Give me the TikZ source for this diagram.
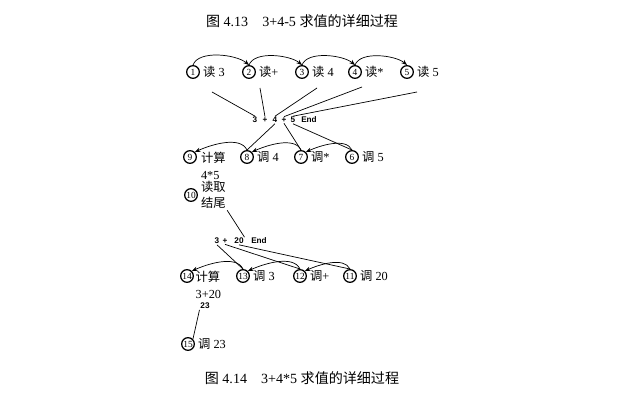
\documentclass[tikz,border=0pt]{standalone}
\usepackage{fontspec}
\setmainfont{Liberation Serif}
\setsansfont{Liberation Sans}
\newfontfamily\cjk{Noto Sans CJK SC}
\usetikzlibrary{positioning, arrows.meta}
\newcommand{\zh}[1]{{\cjk #1}}
\tikzset{
  num/.style={circle, draw, line width=1.1pt, inner sep=0pt, minimum size=0.38cm,
              font=\fontsize{8}{9}\selectfont},
  lbl/.style={inner sep=1pt, font=\fontsize{10.5}{14}\selectfont},
  tok/.style={inner sep=0.6pt, font=\sffamily\bfseries\fontsize{7}{8}\selectfont},
  figcap/.style={font=\fontsize{12}{14}\selectfont},
  hop/.style={-{Stealth[length=1.7mm, width=1.3mm]}, semithick},
  link/.style={semithick},
}

\begin{document}
\begin{tikzpicture}[x=0.03cm, y=-0.03cm, node distance=1.5pt]
  \useasboundingbox (0,0) rectangle (636,403);

  % captions
  \node[figcap] (cap1) at (302,21) {\zh{图}~4.13\quad 3+4-5~\zh{求值的详细过程}};
  \node[figcap] (cap2) at (302,378) {\zh{图}~4.14\quad 3+4*5~\zh{求值的详细过程}};

  % reading steps
  \foreach \i/\x in {1/193, 2/249, 3/302, 4/355, 5/407}
    \node[num] (c\i) at (\x,72) {\i};
  \node[lbl, right=of c1] (t1) {\zh{读} 3};
  \node[lbl, right=of c2] (t2) {\zh{读}+};
  \node[lbl, right=of c3] (t3) {\zh{读} 4};
  \node[lbl, right=of c4] (t4) {\zh{读}*};
  \node[lbl, right=of c5] (t5) {\zh{读} 5};
  \foreach \a/\b in {1/2, 2/3, 3/4, 4/5}
    \draw[hop] (c\a.north) to[out=70, in=140, looseness=0.75] (c\b.north);

  % first expression
  \node[tok] (x3) at (255,120) {3};
  \node[tok] (xa) at (265,120) {+};
  \node[tok] (x4) at (275,120) {4};
  \node[tok] (xb) at (284,120) {+};
  \node[tok] (x5) at (293,120) {5};
  \node[tok] (xe) at (309,120) {End};
  \coordinate (a1) at (212,92);
  \coordinate (a2) at (260,88);
  \coordinate (a3) at (317,88);
  \coordinate (a4) at (362,87);
  \coordinate (a5) at (417,92);
  \foreach \i/\t in {1/x3, 2/xa, 3/x4, 4/xb, 5/x5}
    \draw[link] (a\i) -- (\t.north);

  % returning steps
  \foreach \i/\x in {9/190, 8/247, 7/301, 6/352}
    \node[num] (c\i) at (\x,157) {\i};
  \node[lbl, anchor=north west, align=left] (t9)
    at ([xshift=4pt, yshift=1pt]c9.north east) {\zh{计算}\\4*5};
  \node[lbl, right=of c8] (t8) {\zh{调} 4};
  \node[lbl, right=of c7] (t7) {\zh{调}*};
  \node[lbl, right=of c6] (t6) {\zh{调} 5};
  \draw[link] (x4.south) -- (c8.north);
  \draw[link] (xb.south) -- (c7.north);
  \draw[link] (x5.south) -- (c6.north);
  \foreach \a/\b in {6/7, 7/8, 8/9}
    \draw[hop] (c\a.north) to[out=115, in=25, looseness=0.8] (c\b.north east);

  \node[num] (c10) at (191,195) {10};
  \node[lbl, right=of c10, align=left] (t10) {\zh{读取}\\\zh{结尾}};

  % second expression
  \node[tok] (y3) at (217,241) {3};
  \node[tok] (yp) at (225,241) {+};
  \node[tok] (y20) at (239,241) {20};
  \node[tok] (ye) at (259,241) {End};
  \draw[link] (t10.south east) -- (y20.north east);

  \foreach \i/\x in {14/187, 13/243, 12/300, 11/350}
    \node[num] (c\i) at (\x,276) {\i};
  \node[lbl, anchor=north west, align=left] (t14)
    at ([xshift=2pt, yshift=1pt]c14.north east) {\zh{计算}\\3+20};
  \node[lbl, right=of c13] (t13) {\zh{调} 3};
  \node[lbl, right=of c12] (t12) {\zh{调}+};
  \node[lbl, right=of c11] (t11) {\zh{调} 20};
  \draw[link] (y3.south) -- (c13.north);
  \draw[link] (yp.south) -- (c12.north);
  \draw[link] (y20.south) -- (c11.north);
  \foreach \a/\b in {11/12, 12/13, 13/14}
    \draw[hop] (c\a.north) to[out=115, in=25, looseness=0.8] (c\b.north east);

  % result
  \node[tok] (n23) at (205,306) {23};
  \node[num] (c15) at (188,344) {15};
  \node[lbl, right=of c15] (t15) {\zh{调} 23};
  \draw[link] (n23.south west) -- (c15.north east);
\end{tikzpicture}
\end{document}
